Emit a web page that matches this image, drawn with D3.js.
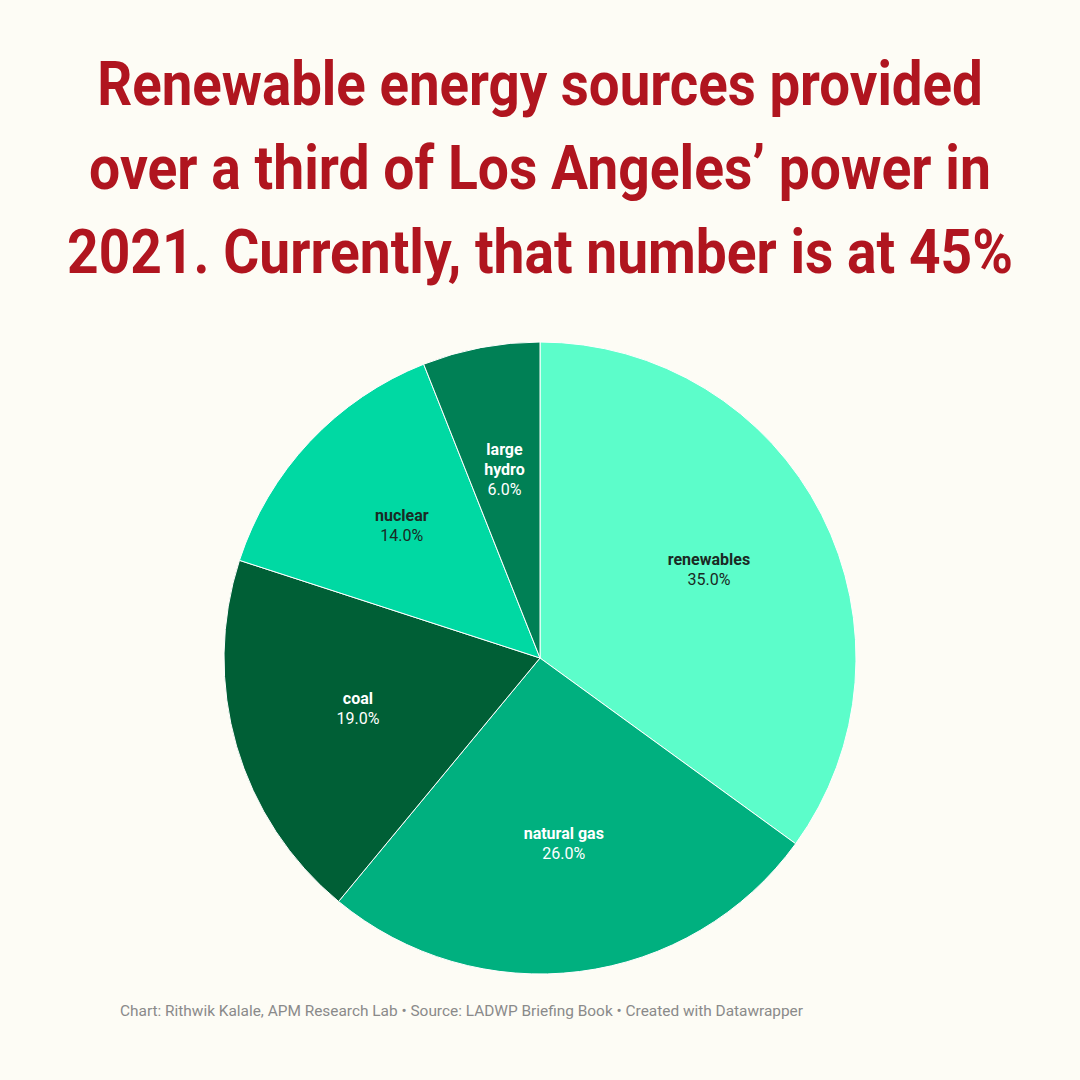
<!DOCTYPE html>
<html>
<head>
<meta charset="utf-8">
<script src="https://cdn.jsdelivr.net/npm/d3@7"></script>
<style>
  html, body { margin: 0; padding: 0; background: #fdfcf5; }
  svg { display: block; font-family: Roboto, 'Noto Sans', sans-serif; }
</style>
</head>
<body>
<div id="chart"></div>
<script>
const sources = ['renewables', 'natural gas', 'coal', 'nuclear', 'large hydro'];
const shares = [35.0, 26.0, 19.0, 14.0, 6.0];
const sliceColors = ['#5cfdca', '#00b07f', '#005f36', '#00d9a3', '#008055'];
const labelColors = ['#1a2a24', '#ffffff', '#ffffff', '#1a2a24', '#ffffff'];

const titleLines = [
  'Renewable energy sources provided',
  'over a third of Los Angeles\u2019 power in',
  '2021. Currently, that number is at 45%',
];
const footer = 'Chart: Rithwik Kalale, APM Research Lab \u2022 Source: LADWP Briefing Book \u2022 Created with Datawrapper';

const width = 1080;
const height = 1080;
const cx = 540;
const cy = 658;
const radius = 316;

const svg = d3
  .select('#chart')
  .append('svg')
  .attr('width', width)
  .attr('height', height);

svg.append('rect').attr('width', width).attr('height', height).attr('fill', '#fdfcf5');

// title: regular Roboto squeezed horizontally to look like the condensed original
const titleWidths = [886, 902, 946];
svg
  .append('g')
  .selectAll('g')
  .data(titleLines)
  .join('g')
  .each(function (d, i) {
    const gl = d3.select(this);
    const t = gl
      .append('text')
      .attr('text-anchor', 'middle')
      .style('font-size', '61px')
      .style('font-weight', 700)
      .style('fill', '#b0151f')
      .text(d);
    const natural = t.node().getComputedTextLength();
    const sx = titleWidths[i] / natural;
    gl.attr('transform', `translate(${width / 2}, ${105 + i * 84}) scale(${sx}, 1)`);
  });

const data = sources.map((s, i) => ({ name: s, value: shares[i], i }));

const pie = d3.pie().value((d) => d.value).sort(null);
const arc = d3.arc().innerRadius(0).outerRadius(radius);
const labelArc = d3.arc().innerRadius(radius * 0.6).outerRadius(radius * 0.6);

const g = svg.append('g').attr('transform', `translate(${cx}, ${cy})`);

g.selectAll('path')
  .data(pie(data))
  .join('path')
  .attr('d', arc)
  .attr('fill', (d) => sliceColors[d.data.i])
  .attr('stroke', '#ffffff')
  .attr('stroke-width', 1);

const labels = g
  .selectAll('.label')
  .data(pie(data))
  .join('text')
  .attr('class', 'label')
  .attr('transform', (d) => `translate(${labelArc.centroid(d)})`)
  .attr('text-anchor', 'middle')
  .style('font-size', '16px')
  .style('fill', (d) => labelColors[d.data.i]);

labels.each(function (d) {
  const t = d3.select(this);
  const words = d.data.name === 'large hydro' ? ['large', 'hydro'] : [d.data.name];
  const lines = [...words.map((w) => ({ text: w, bold: true })), { text: `${d.data.value.toFixed(1)}%`, bold: false }];
  const lh = 20;
  const y0 = -((lines.length - 1) * lh) / 2 + 3;
  lines.forEach((l, k) => {
    t.append('tspan')
      .attr('x', 0)
      .attr('y', y0 + k * lh)
      .style('font-weight', l.bold ? 700 : 400)
      .text(l.text);
  });
});

// footer
svg
  .append('text')
  .attr('x', 120)
  .attr('y', 1016)
  .attr('textLength', 683)
  .attr('lengthAdjust', 'spacingAndGlyphs')
  .style('font-size', '14.5px')
  .style('fill', '#8a8a8a')
  .text(footer);
</script>
</body>
</html>
